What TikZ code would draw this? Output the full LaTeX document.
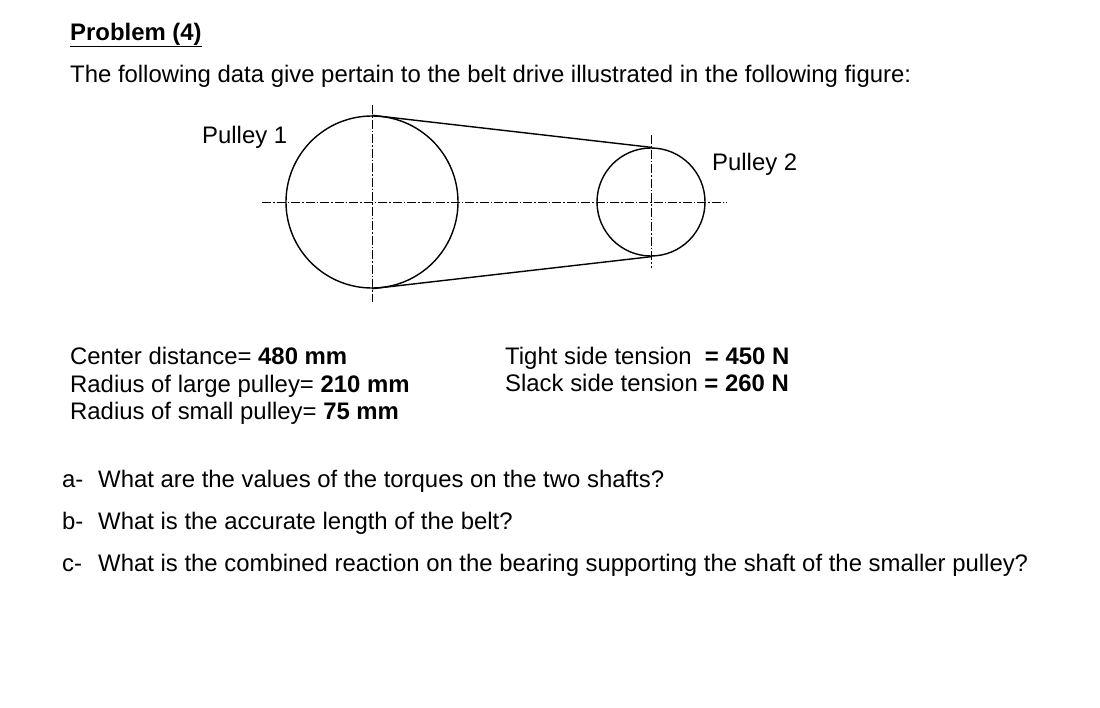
\documentclass[tikz,border=0pt]{standalone}
\usepackage{fontspec}
\setmainfont{Liberation Sans}
\begin{document}
\begin{tikzpicture}[x=1pt,y=-1pt,
  txt/.style={anchor=base west,inner sep=0pt,font=\fontsize{23.9}{28}\selectfont},
  cl/.style={line width=0.8pt,dash pattern=on 9pt off 2pt on 1.5pt off 2pt},
  pul/.style={draw,circle,line width=1.4pt,inner sep=0pt}]
\useasboundingbox (0,0) rectangle (1100,707);
\node[txt] (title) at (70,40) {\textbf{\underline{Problem (4)}}};
\node[txt] (intro) at (70,82) {The following data give pertain to the belt drive illustrated in the following figure:};
\node[pul,minimum size=172pt] (p1) at (372,202) {};
\node[pul,minimum size=108pt] (p2) at (651,202) {};
\draw[line width=1.4pt] (p1.north) -- (p2.north);
\draw[line width=1.4pt] (p1.south) -- (p2.south);
\draw[cl] (262,202) -- (727,202);
\draw[cl] (372,105) -- (372,302);
\draw[cl] (651,135) -- (651,268);
\node[txt] (l1) at (202,143) {Pulley 1};
\node[txt] (l2) at (712,170) {Pulley 2};
\node[txt] (d1) at (70,364) {Center distance= \textbf{480 mm}};
\node[txt] (d2) at (70,392) {Radius of large pulley= \textbf{210 mm}};
\node[txt] (d3) at (70,419) {Radius of small pulley= \textbf{75 mm}};
\node[txt] (d4) at (505,364) {Tight side tension\ \ \textbf{= 450 N}};
\node[txt] (d5) at (505,391) {Slack side tension \textbf{= 260 N}};
\node[txt] (qa) at (62,487) {a-};
\node[txt] (qat) at (98,487) {What are the values of the torques on the two shafts?};
\node[txt] (qb) at (62,529) {b-};
\node[txt] (qbt) at (98,529) {What is the accurate length of the belt?};
\node[txt] (qc) at (62,571) {c-};
\node[txt] (qct) at (98,571) {What is the combined reaction on the bearing supporting the shaft of the smaller pulley?};
\end{tikzpicture}
\end{document}
